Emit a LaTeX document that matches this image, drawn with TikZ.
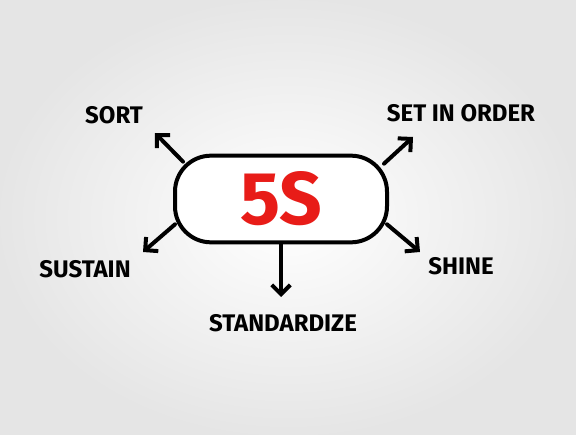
\documentclass[tikz,border=0pt]{standalone}
\usepackage{fontspec}
\setmainfont{Fira Sans}
\usetikzlibrary{arrows.meta}

\tikzset{
  pen/.style={line width=3pt, line cap=round, black},
  arr/.style={pen, -{Straight Barb[length=7pt,width=14pt,line width=3pt]}},
  lbl/.style={font=\fontsize{18}{20}\selectfont\bfseries, text=black, inner sep=0pt},
}

\begin{document}
\begin{tikzpicture}[x=0.75pt,y=0.75pt,yscale=-1]
%background with soft grey edges
\shade[inner color=white, outer color=gray!20] (0,0) rectangle (576,435);
\useasboundingbox (0,0) rectangle (576,435);

%central box
\node[pen, draw, fill=white, rounded corners=27pt, minimum width=159pt, minimum height=65pt] (box) at (281,199) {};
\node[text={rgb,255:red,232;green,28;blue,24}, font=\fontsize{56}{60}\selectfont\bfseries] (fiveS) at (281,199) {5S};

% Text Node
\node[lbl] (sort) at (114,115) {SORT};
\node[lbl] (order) at (461,113) {SET IN ORDER};
\node[lbl] (sustain) at (85,269) {SUSTAIN};
\node[lbl] (standard) at (283,323) {STANDARDIZE};
\node[lbl] (shine) at (461,266) {SHINE};

%arrow tips
\coordinate (sortTip) at (155,133);
\coordinate (orderTip) at (413,137);
\coordinate (sustainTip) at (143,252);
\coordinate (standardTip) at (281,297);
\coordinate (shineTip) at (420,252);

%arrows
\draw[arr] ([shift={(10,8)}]box.north west) -- (sortTip);
\draw[arr] ([shift={(-5,10)}]box.north east) -- (orderTip);
\draw[arr] ([shift={(2,-20)}]box.south west) -- (sustainTip);
\draw[arr] (box.south) -- (standardTip);
\draw[arr] ([shift={(-2,-20)}]box.south east) -- (shineTip);

\end{tikzpicture}
\end{document}
